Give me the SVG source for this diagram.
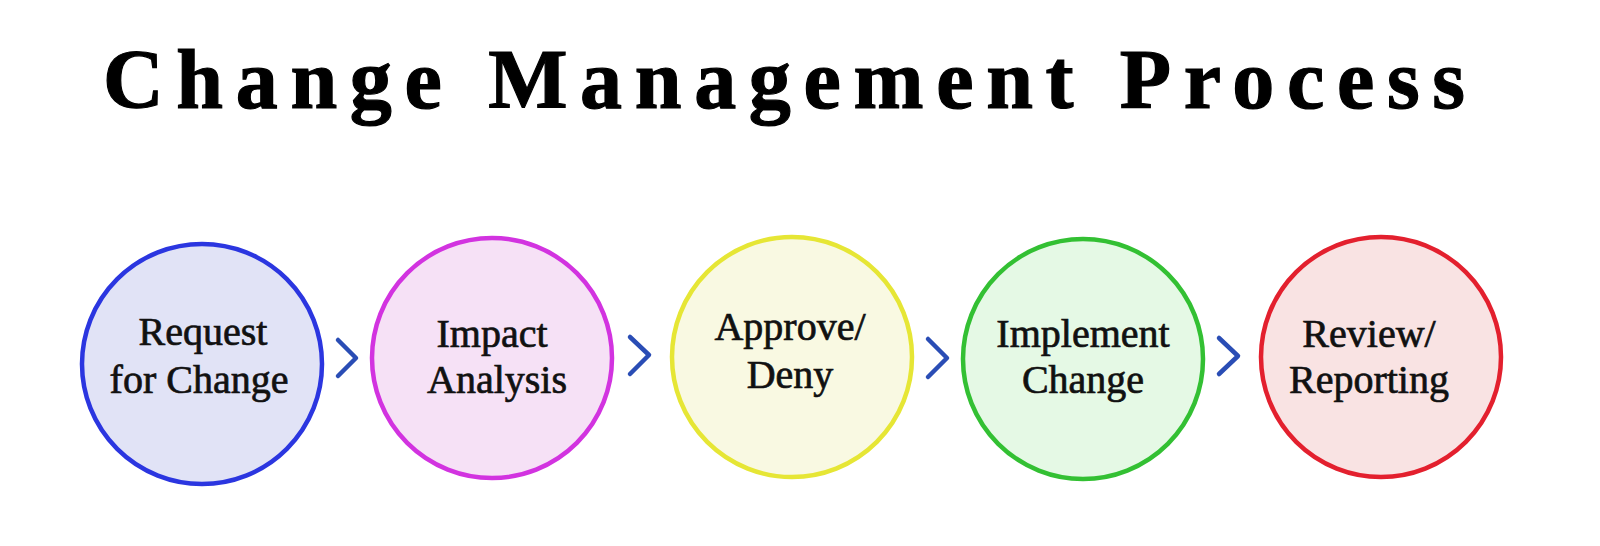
<svg xmlns="http://www.w3.org/2000/svg" width="1600" height="546" viewBox="0 0 1600 546">
<style>
.title{font-family:"Liberation Serif","Times New Roman",serif;font-weight:bold;font-size:84px;fill:#000;stroke:#000;stroke-width:1.2}
.lbl{font-family:"Liberation Serif","Times New Roman",serif;font-size:40px;fill:#111;stroke:#111;stroke-width:0.7;text-anchor:middle}
.node circle{stroke-width:4.5}
.chev{fill:none;stroke:#2a4db5;stroke-width:4.5;stroke-linecap:round;stroke-linejoin:round}
</style>
<rect width="1600" height="546" fill="#fff"/>
<text class="title" x="103" y="108" textLength="1362" lengthAdjust="spacing">Change Management Process</text>
<g id="node1" class="node"><circle cx="202" cy="364" r="120" fill="#e1e3f6" stroke="#2b36e0"/><text class="lbl" x="203" y="345">Request</text><text class="lbl" x="199" y="393">for Change</text></g>
<g id="node2" class="node"><circle cx="492" cy="358" r="120" fill="#f6e1f6" stroke="#d233e0"/><text class="lbl" x="492" y="347">Impact</text><text class="lbl" x="497" y="393">Analysis</text></g>
<g id="node3" class="node"><circle cx="792" cy="357" r="120" fill="#f9f9e2" stroke="#e6e635"/><text class="lbl" x="790" y="340">Approve/</text><text class="lbl" x="790" y="388">Deny</text></g>
<g id="node4" class="node"><circle cx="1083" cy="359" r="120" fill="#e5f9e5" stroke="#33c033"/><text class="lbl" x="1083" y="347">Implement</text><text class="lbl" x="1083" y="393">Change</text></g>
<g id="node5" class="node"><circle cx="1381" cy="357" r="120" fill="#f9e3e3" stroke="#e3202e"/><text class="lbl" x="1369" y="347">Review/</text><text class="lbl" x="1369" y="393">Reporting</text></g>
<g id="connectors">
<polyline class="chev" points="338,340 356,358 338,376"/>
<polyline class="chev" points="630,337 649,355 630,374"/>
<polyline class="chev" points="928,339 947,358 928,377"/>
<polyline class="chev" points="1219,338 1238,356 1219,374"/>
</g>
</svg>
